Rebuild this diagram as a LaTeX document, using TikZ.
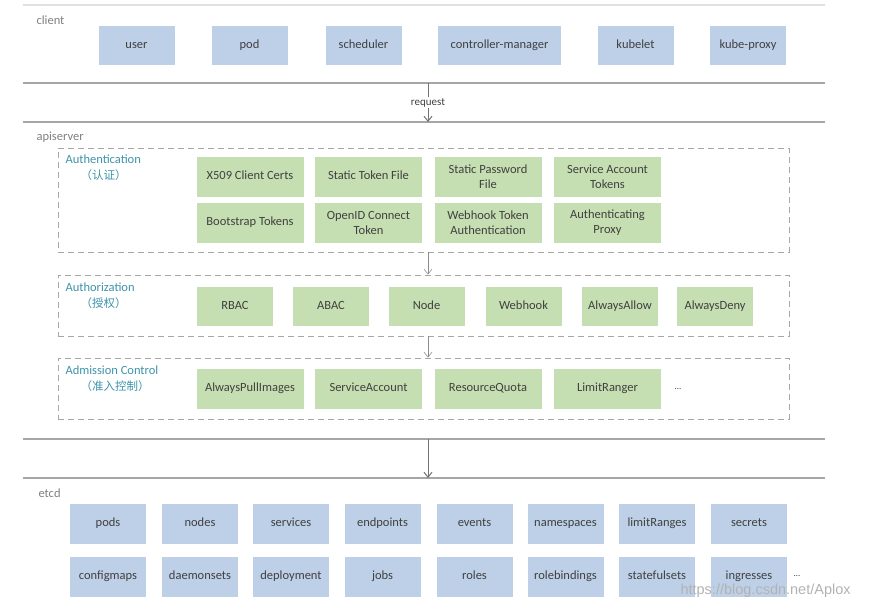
\documentclass[tikz,border=0pt]{standalone}
\usepackage{fontspec}
\setmainfont{Carlito}
\newfontfamily\cjk{Noto Sans CJK SC}
\newfontfamily\markfont{Liberation Sans}
\usetikzlibrary{arrows.meta}

\definecolor{boxblue}{HTML}{BDD0E8}
\definecolor{boxgreen}{HTML}{C6DFB2}
\definecolor{stagetext}{HTML}{3D93AA}
\definecolor{rulegray}{HTML}{A6A6A6}

\begin{document}
\begin{tikzpicture}[x=1pt, y=-1pt,
	font=\fontsize{12.5}{15}\selectfont, text=black!75,
	oneline/.style={text height=1.6ex, text depth=.45ex},
	twoline/.style={text height={}, text depth={}},
	bluebox/.style={fill=boxblue, minimum width=76pt, minimum height=39pt, inner sep=2pt, align=center, oneline},
	greenbox/.style={fill=boxgreen, minimum width=107pt, minimum height=40pt, inner sep=2pt, align=center, oneline},
	stage/.style={draw=rulegray, dash pattern=on 6pt off 4pt, line width=0.8pt, minimum width=731pt, inner sep=0pt},
	layer/.style={text=black!50, anchor=west},
	stagename/.style={text=stagetext, anchor=west, align=left},
	sep/.style={draw=rulegray, line width=1.2pt},
	flow/.style={draw=black!55, line width=1pt, -{Straight Barb[length=5pt,width=8pt]}}]
	\useasboundingbox (0,0) rectangle (876,608);

	% layers
	\draw[sep, draw=black!12] (23,5) -- (825,5);
	\draw[sep] (23,83) -- (825,83);
	\draw[sep] (23,122) -- (825,122);
	\draw[sep] (23,439) -- (825,439);
	\draw[sep] (23,478) -- (825,478);

	\node[layer] (client) at (33,20) {client};
	\node[layer] (apiserver) at (33,137) {apiserver};
	\node[layer] (etcd) at (35,493) {etcd};

	% client
	\node[bluebox] (user) at (136.5,45.5) {user};
	\node[bluebox] (pod) at (249.5,45.5) {pod};
	\node[bluebox] (scheduler) at (363.5,45.5) {scheduler};
	\node[bluebox, minimum width=123pt] (cm) at (499.5,45.5) {controller-manager};
	\node[bluebox] (kubelet) at (635.5,45.5) {kubelet};
	\node[bluebox] (proxy) at (748,45.5) {kube-proxy};

	\coordinate (req1) at (428,83);
	\coordinate (req2) at (428,122);
	\draw[flow] (req1) -- node[fill=white, inner sep=1pt, font=\fontsize{11}{12}\selectfont] {request} (req2);

	% authentication
	\node[stage, minimum height=104pt] (authn) at (423.5,200) {};
	\node[stagename] (authnname) at (62,159) {Authentication};
	\node[stagename] (authncn) at (77,175) {\cjk\fontsize{11.5}{12}\selectfont （认证）};
	\node[greenbox] (x509) at (250,177) {X509 Client Certs};
	\node[greenbox] (tokenfile) at (368.5,177) {Static Token File};
	\node[greenbox, twoline] (pwfile) at (488,177) {Static Password\\File};
	\node[greenbox, twoline] (satoken) at (607.5,177) {Service Account\\Tokens};
	\node[greenbox] (bootstrap) at (250,223) {Bootstrap Tokens};
	\node[greenbox, twoline] (oidc) at (368.5,223) {OpenID Connect\\Token};
	\node[greenbox, twoline] (webhooktoken) at (488,223) {Webhook Token\\Authentication};
	\node[greenbox, twoline] (authproxy) at (607.5,223) {Authenticating\\Proxy};

	% authorization
	\node[stage, minimum height=61pt] (authz) at (423.5,305.5) {};
	\node[stagename] (authzname) at (62,287) {Authorization};
	\node[stagename] (authzcn) at (77,303) {\cjk\fontsize{11.5}{12}\selectfont （授权）};
	\node[greenbox, minimum width=76pt, minimum height=39pt] (rbac) at (235,306.5) {RBAC};
	\node[greenbox, minimum width=76pt, minimum height=39pt] (abac) at (331,306.5) {ABAC};
	\node[greenbox, minimum width=76pt, minimum height=39pt] (node) at (426.5,306.5) {Node};
	\node[greenbox, minimum width=76pt, minimum height=39pt] (webhook) at (523.5,306.5) {Webhook};
	\node[greenbox, minimum width=76pt, minimum height=39pt] (allow) at (620,306.5) {AlwaysAllow};
	\node[greenbox, minimum width=76pt, minimum height=39pt] (deny) at (715,306.5) {AlwaysDeny};

	% admission control
	\node[stage, minimum height=61pt] (adm) at (423.5,388.5) {};
	\node[stagename] (admname) at (62,370) {Admission Control};
	\node[stagename] (admcn) at (77,386) {\cjk\fontsize{11.5}{12}\selectfont （准入控制）};
	\node[greenbox] (pull) at (250,388.5) {AlwaysPullImages};
	\node[greenbox] (sa) at (368.5,388.5) {ServiceAccount};
	\node[greenbox] (quota) at (488,388.5) {ResourceQuota};
	\node[greenbox] (ranger) at (607.5,388.5) {LimitRanger};
	\node (admmore) at (678,389) {\fontsize{9}{10}\selectfont\dots};

	\draw[flow, line width=0.6pt, draw=black!45] (authn.south -| req1) -- (authz.north -| req1);
	\draw[flow, line width=0.6pt, draw=black!45] (authz.south -| req1) -- (adm.north -| req1);

	\coordinate (api1) at (428,439);
	\coordinate (api2) at (428,478);
	\draw[flow] (api1) -- (api2);

	% etcd
	\node[bluebox, minimum height=40pt] (pods) at (108,524) {pods};
	\node[bluebox, minimum height=40pt] (nodes) at (200,524) {nodes};
	\node[bluebox, minimum height=40pt] (services) at (291,524) {services};
	\node[bluebox, minimum height=40pt] (endpoints) at (382.5,524) {endpoints};
	\node[bluebox, minimum height=40pt] (events) at (474.5,524) {events};
	\node[bluebox, minimum height=40pt] (namespaces) at (565.5,524) {namespaces};
	\node[bluebox, minimum height=40pt] (limitranges) at (657,524) {limitRanges};
	\node[bluebox, minimum height=40pt] (secrets) at (749,524) {secrets};
	\node[bluebox, minimum height=40pt] (configmaps) at (108,576.5) {configmaps};
	\node[bluebox, minimum height=40pt] (daemonsets) at (200,576.5) {daemonsets};
	\node[bluebox, minimum height=40pt] (deployment) at (291,576.5) {deployment};
	\node[bluebox, minimum height=40pt] (jobs) at (382.5,576.5) {jobs};
	\node[bluebox, minimum height=40pt] (roles) at (474.5,576.5) {roles};
	\node[bluebox, minimum height=40pt] (rolebindings) at (565.5,576.5) {rolebindings};
	\node[bluebox, minimum height=40pt] (statefulsets) at (657,576.5) {statefulsets};
	\node[bluebox, minimum height=40pt] (ingresses) at (749,576.5) {ingresses};
	\node (etcdmore) at (797,576) {\fontsize{9}{10}\selectfont\dots};

	\node[anchor=west, text=black!30] (mark) at (677,591) {\markfont\fontsize{14.5}{16}\selectfont https://blog.csdn.net/Aplox};
\end{tikzpicture}
\end{document}
